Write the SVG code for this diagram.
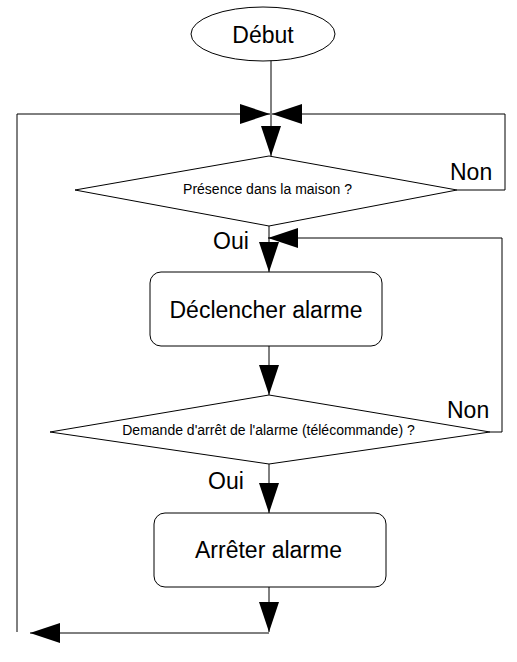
<svg xmlns="http://www.w3.org/2000/svg" width="517" height="662" viewBox="0 0 517 662">
<style>
.shape{fill:#fff;stroke:#000;stroke-width:1}
.line{fill:none;stroke:#000;stroke-width:1;marker-end:url(#arrow)}
.plain{fill:none;stroke:#000;stroke-width:1}
text{font-family:"Liberation Sans",Arial,sans-serif;fill:#000}
.big{font-size:23px}
.small{font-size:14px}
.mid{text-anchor:middle}
</style>
<defs>
<marker id="arrow" markerUnits="userSpaceOnUse" markerWidth="30" markerHeight="20" refX="30" refY="10" orient="auto" viewBox="0 0 30 20">
<path d="M0,0 L30,10 L0,20 z" fill="#000"/>
</marker>
</defs>
<rect width="517" height="662" fill="#fff"/>
<g id="connectors">
<path class="line" d="M271,60 V156"/>
<path class="line" d="M17,632 V114 H270"/>
<path class="line" d="M457,190 H505 V114 H272"/>
<path class="line" d="M269,226 V272"/>
<path class="line" d="M490,432 H502 V238 H268"/>
<path class="line" d="M269,346 V395"/>
<path class="line" d="M269,464 V513"/>
<path class="line" d="M269,587 V632"/>
<path class="line" d="M269,633 H30"/>
</g>
<g id="debut">
<ellipse class="shape" cx="263" cy="34" rx="72" ry="27"/>
<text class="big mid" x="263" y="43">Début</text>
</g>
<g id="presence">
<polygon class="shape" points="269,156 457,190 269,226 75,190"/>
<text class="small mid" x="267.5" y="194">Présence dans la maison ?</text>
</g>
<g id="declencher">
<rect class="shape" x="150" y="272" width="232" height="74" rx="11"/>
<text class="big mid" x="266" y="318">Déclencher alarme</text>
</g>
<g id="demande">
<polygon class="shape" points="269,395 490,432 269,464 50,432"/>
<text class="small mid" x="268.5" y="435">Demande d'arrêt de l'alarme (télécommande) ?</text>
</g>
<g id="arreter">
<rect class="shape" x="154" y="513" width="232" height="74" rx="11"/>
<text class="big mid" x="268.5" y="558">Arrêter alarme</text>
</g>
<g id="labels">
<text class="big" x="450" y="180">Non</text>
<text class="big" x="213" y="249">Oui</text>
<text class="big" x="447" y="418">Non</text>
<text class="big" x="208" y="489">Oui</text>
</g>
</svg>
